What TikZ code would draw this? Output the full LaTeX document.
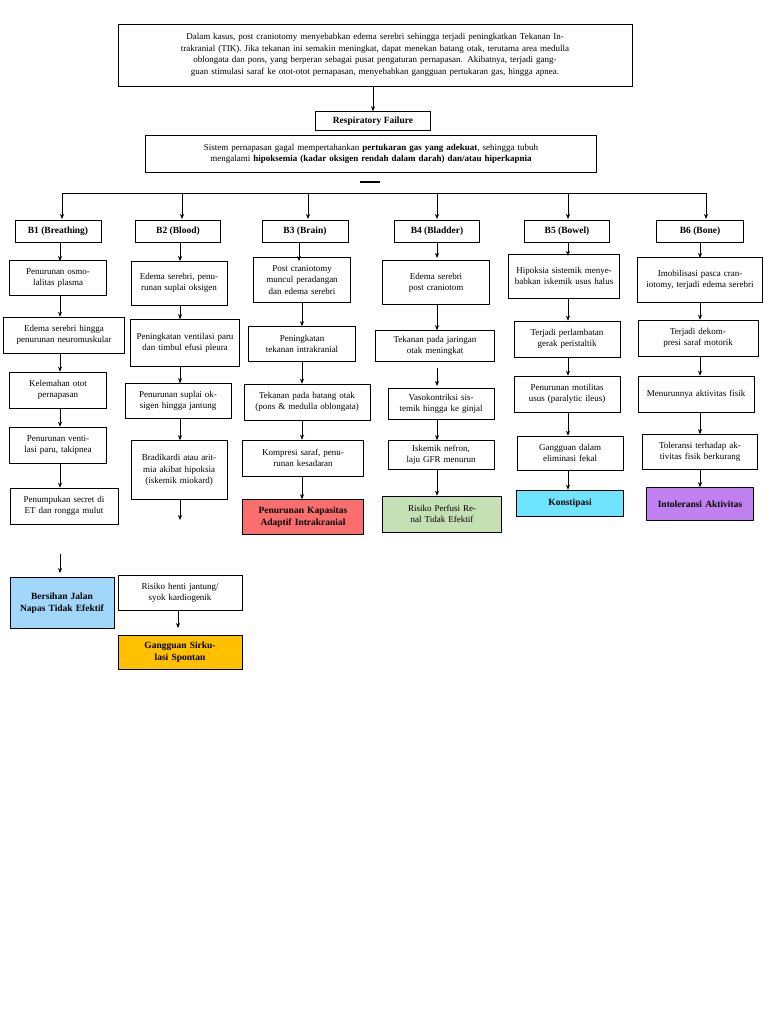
\documentclass[tikz,border=0pt]{standalone}
\usepackage{fontspec}
\setmainfont{Liberation Serif}
\usetikzlibrary{arrows.meta}
\begin{document}
\begin{tikzpicture}[x=1pt,y=-1pt,line width=0.6pt]
  \tikzstyle{bx}=[draw,fill=white,align=center,inner sep=1pt,font=\fontsize{9}{11.5}\selectfont]
  \tikzstyle{dx}=[bx,font=\fontsize{9.5}{12}\selectfont\bfseries]
  \tikzstyle{arr}=[-{Stealth[length=5pt,width=4pt]}]
  \useasboundingbox (0,0) rectangle (768,1024);

  \node [bx,minimum width=514,minimum height=62,text width=500] (top) at (375,55)
    {Dalam kasus, post craniotomy menyebabkan edema serebri sehingga terjadi peningkatkan Tekanan Intrakranial (TIK). Jika tekanan ini semakin meningkat, dapat menekan batang otak, terutama area medulla oblongata dan pons, yang berperan sebagai pusat pengaturan pernapasan. Akibatnya, terjadi gangguan stimulasi saraf ke otot-otot pernapasan, menyebabkan gangguan pertukaran gas, hingga apnea.};
  \node [dx,minimum width=115,minimum height=19] (rf) at (373,121) {Respiratory Failure};
  \node [bx,minimum width=451,minimum height=37,text width=440,anchor=north] (sis) at (371,135)
    {Sistem pernapasan gagal mempertahankan \textbf{pertukaran gas yang adekuat}, sehingga tubuh mengalami \textbf{hipoksemia (kadar oksigen rendah dalam darah) dan/atau hiperkapnia}};
  \draw [arr] (top.south -| rf) -- (rf);
  \draw [line width=1.2pt] (360,182) -- (380,182);

  % bus
  \coordinate (busl) at (62,193);
  \coordinate (busr) at (706,193);
  \draw (busl) -- (busr);

  % headers
  \node [dx,minimum width=86,minimum height=22] (h1) at (58,231) {B1 (Breathing)};
  \node [dx,minimum width=85,minimum height=22] (h2) at (178,231) {B2 (Blood)};
  \node [dx,minimum width=86,minimum height=22] (h3) at (305,231) {B3 (Brain)};
  \node [dx,minimum width=85,minimum height=22] (h4) at (437,231) {B4 (Bladder)};
  \node [dx,minimum width=85,minimum height=22] (h5) at (567,231) {B5 (Bowel)};
  \node [dx,minimum width=87,minimum height=22] (h6) at (700,231) {B6 (Bone)};
  \foreach \x/\h in {62/h1,182/h2,308/h3,437/h4,568/h5,706/h6}
    \draw [arr] (\x,193) -- (\x,219);

  % B1
  \node [bx,minimum width=97,minimum height=35,text width=90] (a1) at (58,278) {Penurunan osmolalitas plasma};
  \node [bx,minimum width=121,minimum height=36,text width=118] (a2) at (64,335) {Edema serebri hingga penurunan neuromuskular};
  \node [bx,minimum width=97,minimum height=36,text width=90] (a3) at (58,390) {Kelemahan otot pernapasan};
  \node [bx,minimum width=97,minimum height=36,text width=90] (a4) at (58,445) {Penurunan ventilasi paru, takipnea};
  \node [bx,minimum width=108,minimum height=36,text width=100] (a5) at (64,506) {Penumpukan secret di ET dan rongga mulut};
  \node [dx,fill={rgb,255:red,160;green,215;blue,250},minimum width=104,minimum height=51,text width=98] (a6) at (62,603) {Bersihan Jalan Napas Tidak Efektif};
  \coordinate (a5x) at (60,554);
  \draw [arr] (60,242) -- (60,261);
  \foreach \p/\q in {a1/a2,a2/a3,a3/a4,a4/a5}
    \draw [arr] (60,0 |- \p.south) -- (60,0 |- \q.north);
  \draw [arr] (a5x) -- (60,573);

  % B2
  \node [bx,minimum width=96,minimum height=44,text width=90] (b1) at (179,283) {Edema serebri, penurunan suplai oksigen};
  \node [bx,minimum width=109,minimum height=47,text width=100] (b2) at (185,343) {Peningkatan ventilasi paru dan timbul efusi pleura};
  \node [bx,minimum width=106,minimum height=35,text width=104] (b3) at (178,401) {Penurunan suplai oksigen hingga jantung};
  \node [bx,minimum width=96,minimum height=59,text width=80] (b4) at (179,470) {Bradikardi atau aritmia akibat hipoksia (iskemik miokard)};
  \node [bx,minimum width=124,minimum height=35,text width=118] (b5) at (180,593) {Risiko henti jantung/ syok kardiogenik};
  \node [dx,fill={rgb,255:red,255;green,192;blue,0},minimum width=124,minimum height=34,text width=118] (b6) at (180,652) {Gangguan Sirkulasi Spontan};
  \draw [arr] (180,242) -- (180,261);
  \foreach \p/\q in {b1/b2,b2/b3,b3/b4}
    \draw [arr] (180,0 |- \p.south) -- (180,0 |- \q.north);
  \draw [arr] (b4.south -| 180,0) -- (180,520);
  \draw [arr] (b5.south -| 178,0) -- (178,628);

  % B3
  \node [bx,minimum width=97,minimum height=45,text width=90] (c1) at (302,280) {Post craniotomy muncul peradangan dan edema serebri};
  \node [bx,minimum width=107,minimum height=35,text width=100] (c2) at (302,344) {Peningkatan tekanan intrakranial};
  \node [bx,minimum width=126,minimum height=36,text width=124] (c3) at (307,402) {Tekanan pada batang otak (pons \& medulla oblongata)};
  \node [bx,minimum width=121,minimum height=36,text width=110] (c4) at (303,458) {Kompresi saraf, penurunan kesadaran};
  \node [dx,fill={rgb,255:red,250;green,110;blue,110},minimum width=121,minimum height=35,text width=118] (c5) at (303,517) {Penurunan Kapasitas Adaptif Intrakranial};
  \draw [arr] (299,242) -- (299,261);
  \foreach \p/\q in {c1/c2,c2/c3,c3/c4,c4/c5}
    \draw [arr] (302,0 |- \p.south) -- (302,0 |- \q.north);

  % B4
  \node [bx,minimum width=107,minimum height=44,text width=100,text depth=12pt] (d1) at (436,282) {Edema serebri post craniotom};
  \node [bx,minimum width=119,minimum height=31,text width=112] (d2) at (435,346) {Tekanan pada jaringan otak meningkat};
  \node [bx,minimum width=106,minimum height=31,text width=104] (d3) at (441,404) {Vasokontriksi sistemik hingga ke ginjal};
  \node [bx,minimum width=106,minimum height=29,text width=100] (d4) at (441,455) {Iskemik nefron, laju GFR menurun};
  \node [bx,fill={rgb,255:red,197;green,224;blue,180},minimum width=119,minimum height=36,text width=110] (d5) at (442,514) {Risiko Perfusi Renal Tidak Efektif};
  \draw [arr] (437,242) -- (437,258);
  \draw [arr] (437,0 |- d1.south) -- (437,0 |- d2.north);
  \draw [arr] (437,368) -- (437,386);
  \draw [arr] (437,0 |- d3.south) -- (437,0 |- d4.north);
  \draw [arr] (437,0 |- d4.south) -- (437,0 |- d5.north);

  % B5
  \node [bx,minimum width=111,minimum height=44,text width=104] (e1) at (564,276) {Hipoksia sistemik menyebabkan iskemik usus halus};
  \node [bx,minimum width=106,minimum height=36,text width=100] (e2) at (567,339) {Terjadi perlambatan gerak peristaltik};
  \node [bx,minimum width=106,minimum height=36,text width=100] (e3) at (567,394) {Penurunan motilitas usus (paralytic ileus)};
  \node [bx,minimum width=106,minimum height=34,text width=100] (e4) at (570,453) {Gangguan dalam eliminasi fekal};
  \node [dx,fill={rgb,255:red,110;green,228;blue,255},minimum width=107,minimum height=26,text width=100] (e5) at (570,503) {Konstipasi};
  \draw [arr] (568,242) -- (568,256);
  \foreach \p/\q in {e1/e2,e2/e3,e3/e4,e4/e5}
    \draw [arr] (568,0 |- \p.south) -- (568,0 |- \q.north);

  % B6
  \node [bx,minimum width=125,minimum height=45,text width=118] (f1) at (700,280) {Imobilisasi pasca craniotomy, terjadi edema serebri};
  \node [bx,minimum width=120,minimum height=36,text width=112] (f2) at (698,338) {Terjadi dekompresi saraf motorik};
  \node [bx,minimum width=116,minimum height=36,text width=104] (f3) at (696,394) {Menurunnya aktivitas fisik};
  \node [bx,minimum width=115,minimum height=35,text width=113] (f4) at (700,452) {Toleransi terhadap aktivitas fisik berkurang};
  \node [dx,fill={rgb,255:red,192;green,128;blue,240},minimum width=107,minimum height=33,text width=100] (f5) at (700,504) {Intoleransi Aktivitas};
  \draw [arr] (700,242) -- (700,258);
  \foreach \p/\q in {f1/f2,f2/f3,f3/f4,f4/f5}
    \draw [arr] (700,0 |- \p.south) -- (700,0 |- \q.north);
\end{tikzpicture}
\end{document}
